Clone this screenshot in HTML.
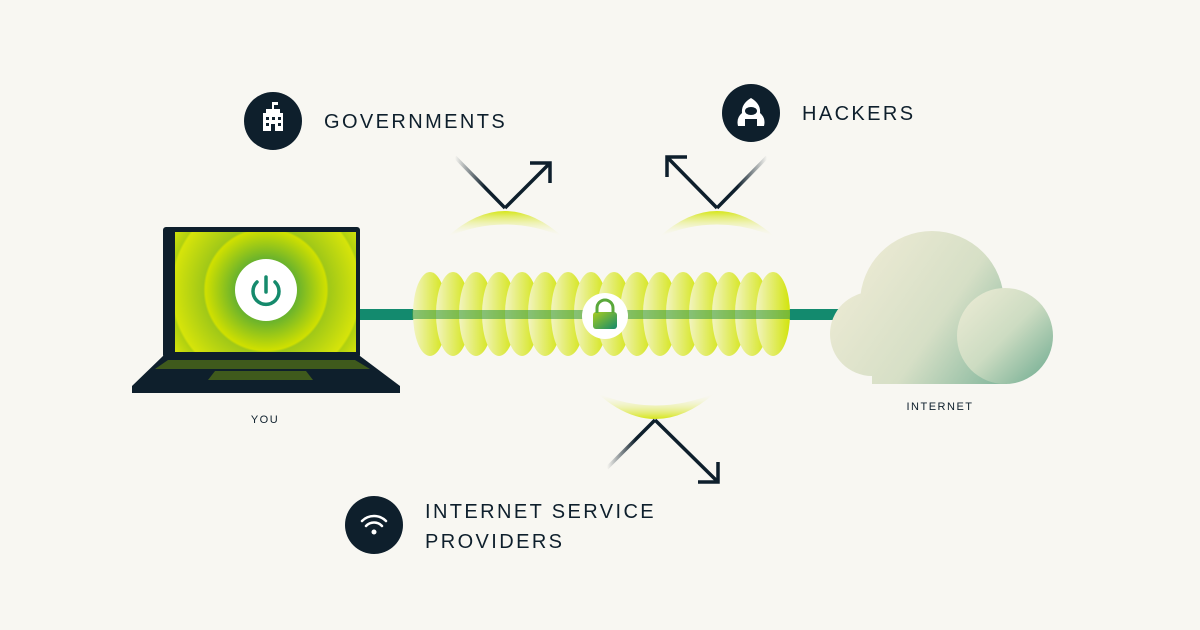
<!DOCTYPE html>
<html><head><style>
body{margin:0;background:#f8f7f2;}
svg{display:block}
text{font-family:"Liberation Sans",sans-serif;fill:#0e1f2c}
</style></head><body>
<svg width="1200" height="630" viewBox="0 0 1200 630">
<defs>
<radialGradient id="scr" cx="266" cy="290" r="110" gradientUnits="userSpaceOnUse">
<stop offset="0" stop-color="#1e8c55"/><stop offset="0.3" stop-color="#6fb52a"/><stop offset="0.55" stop-color="#d0e000"/><stop offset="0.57" stop-color="#a0c818"/><stop offset="0.85" stop-color="#d6e40a"/><stop offset="0.87" stop-color="#b0d010"/><stop offset="1" stop-color="#d6e40a"/></radialGradient>
<linearGradient id="disc" x1="0" x2="1"><stop offset="0" stop-color="#f2f4c0"/><stop offset="1" stop-color="#d2e40c"/></linearGradient>
<linearGradient id="cloud" x1="840" y1="240" x2="1050" y2="385" gradientUnits="userSpaceOnUse"><stop offset="0" stop-color="#f0ecd6"/><stop offset="0.5" stop-color="#d6dfc6"/><stop offset="1" stop-color="#5fa58a"/></linearGradient>
<linearGradient id="cloud2" x1="0" y1="0" x2="1" y2="1"><stop offset="0" stop-color="#eeecd6"/><stop offset="0.5" stop-color="#cddcc2"/><stop offset="1" stop-color="#6aa98e"/></linearGradient>
<linearGradient id="lock" x1="0" y1="0" x2="1" y2="1"><stop offset="0" stop-color="#a8cc20"/><stop offset="1" stop-color="#158a6c"/></linearGradient>
<linearGradient id="gup" x1="0" y1="0" x2="0" y2="1"><stop offset="0" stop-color="#d6e61a"/><stop offset="1" stop-color="#f8f7f2" stop-opacity="0"/></linearGradient>
<linearGradient id="gdn" x1="0" y1="1" x2="0" y2="0"><stop offset="0" stop-color="#d6e61a"/><stop offset="1" stop-color="#f8f7f2" stop-opacity="0"/></linearGradient>
<linearGradient id="fadeL" x1="0" x2="1"><stop offset="0" stop-color="#0e1f2c" stop-opacity="0"/><stop offset="0.6" stop-color="#0e1f2c"/></linearGradient>
<linearGradient id="fadeR" x1="1" x2="0"><stop offset="0" stop-color="#0e1f2c" stop-opacity="0"/><stop offset="0.6" stop-color="#0e1f2c"/></linearGradient>
</defs>
<rect x="355" y="309" width="490" height="11" fill="#138a6e"/>
<g fill="url(#disc)">
<ellipse cx="430" cy="314" rx="17" ry="42"/><ellipse cx="453" cy="314" rx="17" ry="42"/><ellipse cx="476" cy="314" rx="17" ry="42"/><ellipse cx="499" cy="314" rx="17" ry="42"/><ellipse cx="522" cy="314" rx="17" ry="42"/><ellipse cx="545" cy="314" rx="17" ry="42"/><ellipse cx="568" cy="314" rx="17" ry="42"/><ellipse cx="591" cy="314" rx="17" ry="42"/><ellipse cx="614" cy="314" rx="17" ry="42"/><ellipse cx="637" cy="314" rx="17" ry="42"/><ellipse cx="660" cy="314" rx="17" ry="42"/><ellipse cx="683" cy="314" rx="17" ry="42"/><ellipse cx="706" cy="314" rx="17" ry="42"/><ellipse cx="729" cy="314" rx="17" ry="42"/><ellipse cx="752" cy="314" rx="17" ry="42"/><ellipse cx="773" cy="314" rx="17" ry="42"/>
</g>
<rect x="412" y="310" width="378" height="9" fill="#3f9f4a" opacity="0.6"/>
<circle cx="605" cy="316" r="23" fill="#fff"/>
<rect x="593" y="312" width="24" height="17" rx="3" fill="url(#lock)"/>
<path d="M597 313v-5a8 8 0 0 1 16 0v5" fill="none" stroke="#5aa83a" stroke-width="3"/>
<rect x="163" y="227" width="197" height="131" rx="3" fill="#0e1f2c"/>
<rect x="175" y="232" width="181" height="120" fill="url(#scr)"/>
<path d="M163 356 H360 L400 386 V393 H132 V386 Z" fill="#0e1f2c"/>
<path d="M168 360 H355 L370 369 H155 Z" fill="#3f5a1c"/>
<path d="M215 371 H306 L313 380 H208 Z" fill="#3f5a1c"/>
<circle cx="266" cy="290" r="31" fill="#fff"/>
<path d="M257 282 a13 13 0 1 0 18 0" fill="none" stroke="#158a6c" stroke-width="3.5" stroke-linecap="round"/>
<line x1="266" y1="277" x2="266" y2="292" stroke="#158a6c" stroke-width="3.5" stroke-linecap="round"/>
<g fill="url(#cloud)">
<circle cx="932" cy="303" r="72"/><circle cx="872" cy="334" r="42"/><rect x="872" y="330" width="135" height="54"/>
</g>
<circle cx="1005" cy="336" r="48" fill="url(#cloud2)"/>
<path d="M447 237 Q505 185 563 237 Q505 212 447 237Z" fill="url(#gup)"/>
<path d="M659 237 Q717 185 775 237 Q717 212 659 237Z" fill="url(#gup)"/>
<path d="M597 393 Q655 445 715 393 Q655 418 597 393Z" fill="url(#gdn)"/>
<g fill="none" stroke-width="3.5">
<path d="M455 157 L505 208" stroke="url(#fadeL)"/>
<path d="M505 208 L550 163 M530 163 H550 V183" stroke="#0e1f2c"/>
<path d="M767 157 L717 208" stroke="url(#fadeR)"/>
<path d="M717 208 L667 157 M667 177 V157 H687" stroke="#0e1f2c"/>
<path d="M607 468 L655 420" stroke="url(#fadeL)"/>
<path d="M655 420 L718 482 M698 482 H718 V462" stroke="#0e1f2c"/>
</g>
<circle cx="273" cy="121" r="29" fill="#0e1f2c"/>
<rect x="263" y="113" width="20" height="18" fill="#fff"/>
<rect x="266" y="109" width="14" height="5" fill="#fff"/>
<rect x="272" y="102" width="2" height="8" fill="#fff"/>
<rect x="274" y="102" width="4" height="3" fill="#fff"/>
<g fill="#0e1f2c"><rect x="266" y="117" width="3" height="3"/><rect x="272" y="117" width="3" height="3"/><rect x="278" y="117" width="3" height="3"/><rect x="266" y="123" width="3" height="3"/><rect x="278" y="123" width="3" height="3"/><rect x="271" y="124" width="4" height="7"/></g>
<circle cx="751" cy="113" r="29" fill="#0e1f2c"/>
<path d="M751 98 Q761 104 760 113 Q766 118 764 126 H738 Q736 118 742 113 Q741 104 751 98Z" fill="#fff"/>
<ellipse cx="751" cy="111" rx="6" ry="4" fill="#0e1f2c"/>
<rect x="745" y="119" width="12" height="8" fill="#0e1f2c"/>
<circle cx="374" cy="525" r="29" fill="#0e1f2c"/>
<g fill="none" stroke="#fff" stroke-width="2.5" stroke-linecap="round">
<path d="M362 521 a17 17 0 0 1 24 0"/><path d="M366 526 a11 11 0 0 1 16 0"/>
</g>
<circle cx="374" cy="532" r="2.5" fill="#fff"/>
<text x="324" y="128" font-size="20" letter-spacing="2.4">GOVERNMENTS</text>
<text x="802" y="120" font-size="20" letter-spacing="2.4">HACKERS</text>
<text x="425" y="518" font-size="20" letter-spacing="2.4">INTERNET SERVICE</text>
<text x="425" y="548" font-size="20" letter-spacing="2.4">PROVIDERS</text>
<text x="265" y="423" font-size="11" letter-spacing="1.5" text-anchor="middle">YOU</text>
<text x="940" y="410" font-size="11" letter-spacing="1.5" text-anchor="middle">INTERNET</text>
</svg>
</body></html>
